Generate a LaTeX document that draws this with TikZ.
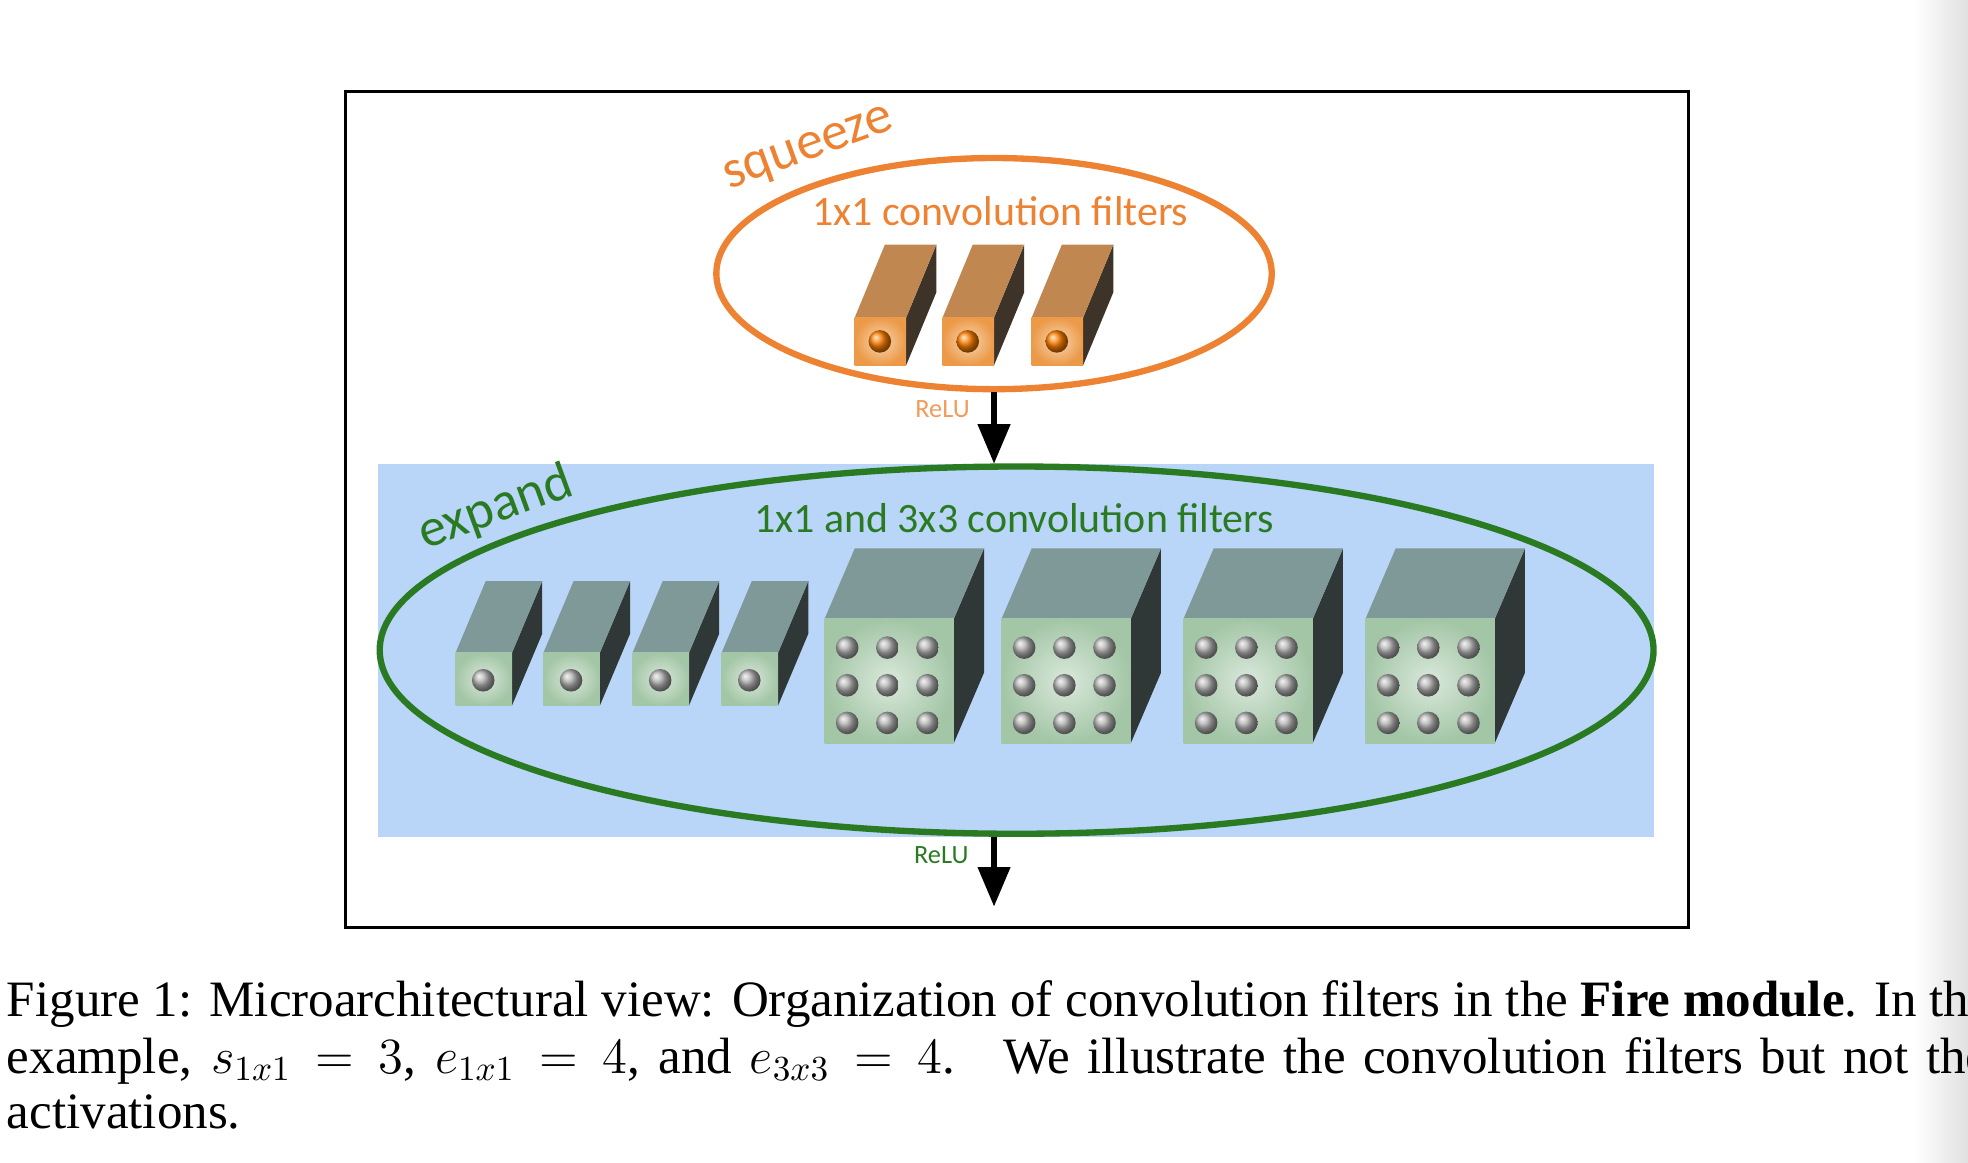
\documentclass[tikz,border=0pt]{standalone}
\usepackage{fontspec}
\setmainfont{Liberation Serif}
\newfontfamily\lab{Carlito}
\usetikzlibrary{shapes,arrows,positioning,calc}
\definecolor{sqorange}{HTML}{EE8233}
\definecolor{exgreen}{HTML}{2A7A22}
\definecolor{exblue}{HTML}{B9D5F8}
\definecolor{otop}{HTML}{C08850}
\definecolor{ofront}{HTML}{EC9A48}
\definecolor{oside}{HTML}{3E3328}
\definecolor{gtop}{HTML}{7F9898}
\definecolor{gfront}{HTML}{A3C6A6}
\definecolor{gside}{HTML}{2F3737}
\tikzset{
  lbl/.style={font=\lab\fontsize{11.9}{14}\selectfont},
  relu/.style={font=\lab\fontsize{7.5}{9}\selectfont},
  big/.style={font=\lab\fontsize{15.3}{18}\selectfont, rotate=20},
  flow/.style={-triangle 45, line width=1.6pt},
  caption/.style={anchor=base west, inner sep=0, font=\fontsize{14.5}{17}\selectfont},
}
% box: x, y (front lower left), w, h, dx, dy, top, front, side
\newcommand{\filterbox}[9]{
  \fill[#9] (#1+#3,#2) -- ++(#5,#6) -- ++(0,#4) -- ++(-#5,-#6) -- cycle;
  \fill[#7] (#1,#2+#4) -- ++(#5,#6) -- ++(#3,0) -- ++(-#5,-#6) -- cycle;
  \shade[inner color=#8!40!white, outer color=#8] (#1,#2) rectangle ++(#3,#4);
}
\newcommand{\hole}[3]{
  \shade[ball color=#3] (#1,#2) circle (9);
}
\begin{document}
\begin{tikzpicture}[x=0.01255cm, y=0.01255cm]
  \useasboundingbox (0,0) rectangle (1568,926);
  \shade[left color=white, right color=black!12] (1525,0) rectangle (1568,926);
  \draw[line width=0.8pt] (275,187) rectangle (1345,853);

  %squeeze
  \node[ellipse, draw=sqorange, line width=1.8pt, minimum width=5.55cm, minimum height=2.31cm] (sq) at (792,708) {};
  \node[big, text=sqorange] (sqname) at (645,806) {squeeze};
  \node[lbl, text=sqorange] (sqtext) at (797,758) {1x1 convolution filters};
  \foreach \x in {681,751,822} {
    \filterbox{\x}{635}{41}{38}{24}{58}{otop}{ofront}{oside}
    \hole{\x+20}{654}{orange}
  }

  %expand
  \fill[exblue] (301,259) rectangle (1318,556);
  \node[ellipse, draw=exgreen, line width=1.8pt, minimum width=12.73cm, minimum height=3.67cm] (ex) at (810,408) {};
  \node[big, text=exgreen] (exname) at (395,521) {expand};
  \node[lbl, text=exgreen] (extext) at (808,513) {1x1 and 3x3 convolution filters};
  \foreach \x in {363,433,504,575} {
    \filterbox{\x}{364}{45}{42}{24}{57}{gtop}{gfront}{gside}
    \hole{\x+22}{384}{gray!60}
  }
  \foreach \x in {657,798,943,1088} {
    \filterbox{\x}{334}{103}{99}{24}{56}{gtop}{gfront}{gside}
    \foreach \i in {0,1,2} {\foreach \j in {0,1,2} {
      \hole{\x+18+32*\i}{350+30*\j}{gray!60}
    }}
  }

  %arrows
  \draw[flow] (sq.south) -- (sq.south |- ex.north);
  \node[relu, text=sqorange!80] (relu1) at (751,600) {ReLU};
  \coordinate (out) at (792,204);
  \draw[flow] (out |- ex.south) -- (out);
  \node[relu, text=exgreen] (relu2) at (750,245) {ReLU};

  %caption
  \node[caption] (cap1) at (5,116)
    {Figure 1: Microarchitectural view: Organization of convolution filters in the \textbf{Fire module}. In this};
  \node[caption] (cap2) at (5,71)
    {\makebox[19.8cm][s]{example, $s_{1x1} = 3$, $e_{1x1} = 4$, and $e_{3x3} = 4$. \ We illustrate the convolution filters but not the}};
  \node[caption] (cap3) at (5,27)
    {activations.};
\end{tikzpicture}
\end{document}
